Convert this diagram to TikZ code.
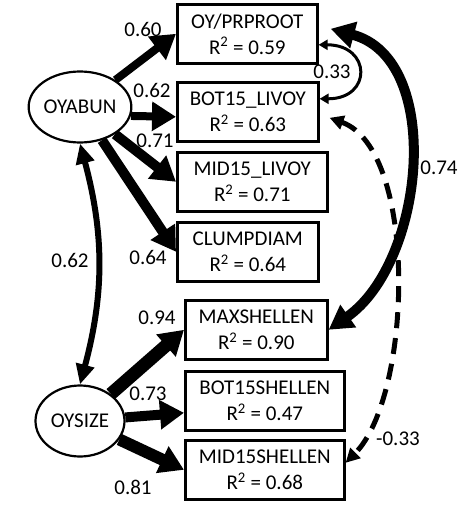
\documentclass[tikz,border=0pt]{standalone}
\usepackage{fontspec}
\setmainfont{Carlito}
\usepackage{tikz}
\usetikzlibrary{arrows.meta,positioning,shapes.geometric}

\begin{document}
\begin{tikzpicture}[
  x=1pt,y=1pt,
  font=\fontsize{21}{26}\selectfont,
  var/.style={draw,line width=2.6pt,minimum height=59pt,align=center,inner sep=0pt,anchor=north west},
  latent/.style={draw,ellipse,line width=2.2pt,minimum width=89pt,minimum height=71pt,inner sep=0pt},
  load/.style={line width=#1,-{Triangle[length=24pt,width=28pt]}},
  coef/.style={inner sep=0pt}
]
\useasboundingbox (0,0) rectangle (474,-505);
\node[latent] (oyabun) at (80,-107) {OYABUN};
\node[latent] (oysize) at (80,-421) {OYSIZE};
\node[var,minimum width=140pt] (prproot) at (176,-3) {OY/PRPROOT\\R\textsuperscript{2} = 0.59};
\node[var,minimum width=141pt] (botlivoy) at (176,-81) {BOT15\_LIVOY\\R\textsuperscript{2} = 0.63};
\node[var,minimum width=150pt] (midlivoy) at (176,-151) {MID15\_LIVOY\\R\textsuperscript{2} = 0.71};
\node[var,minimum width=141pt] (clumpdiam) at (176,-221) {CLUMPDIAM\\R\textsuperscript{2} = 0.64};
\node[var,minimum width=142pt] (maxshellen) at (184,-299) {MAXSHELLEN\\R\textsuperscript{2} = 0.90};
\node[var,minimum width=159pt] (botshellen) at (184,-370) {BOT15SHELLEN\\R\textsuperscript{2} = 0.47};
\node[var,minimum width=159pt] (midshellen) at (184,-439) {MID15SHELLEN\\R\textsuperscript{2} = 0.68};
\draw[load=8pt] (oyabun) -- (prproot.west);
\draw[load=8pt] (oyabun.-10) -- ([yshift=-5pt]botlivoy.west);
\draw[load=10pt] (oyabun) -- (midlivoy.west);
\draw[load=10pt] (oyabun) -- (clumpdiam.west);
\draw[load=13pt] (oysize) -- (maxshellen.west);
\draw[load=10pt] (oysize) -- ([yshift=-12pt]botshellen.west);
\draw[load=12pt] (oysize) -- (midshellen.west);
\draw[line width=6pt,{Triangle[length=20pt,width=18pt]}-{Triangle[length=20pt,width=18pt]}] (oyabun.south) to[out=-75,in=75] (oysize.north);
\draw[line width=3pt,{Triangle[length=9pt,width=10pt]}-{Triangle[length=9pt,width=10pt]}] ([yshift=-11pt]prproot.east) to[out=0,in=0,looseness=2.5] ([yshift=13pt]botlivoy.east);
\draw[line width=10pt,{Triangle[length=24pt,width=26pt]}-{Triangle[length=24pt,width=26pt]}] ([xshift=12pt,yshift=5pt]prproot.east) to[out=-15,in=35,looseness=1.0] (maxshellen.east);
\draw[line width=5pt,dash pattern=on 16pt off 10pt,{Triangle[length=14pt,width=14pt]}-{Triangle[length=14pt,width=14pt]}] ([xshift=10pt,yshift=-6pt]botlivoy.east) to[out=-20,in=45,looseness=0.7] ([yshift=7pt]midshellen.east);
\node[coef] (c060) at (143,-29) {0.60};
\node[coef] (c062a) at (152,-90) {0.62};
\node[coef] (c071) at (155,-141) {0.71};
\node[coef] (c064) at (148,-257) {0.64};
\node[coef] (c062b) at (70,-260) {0.62};
\node[coef] (c094) at (157,-318) {0.94};
\node[coef] (c073) at (148,-394) {0.73};
\node[coef] (c081) at (133,-487) {0.81};
\node[coef] (c033a) at (332,-72) {0.33};
\node[coef] (c074) at (439,-168) {0.74};
\node[coef] (c033b) at (398,-439) {-0.33};
\end{tikzpicture}
\end{document}
